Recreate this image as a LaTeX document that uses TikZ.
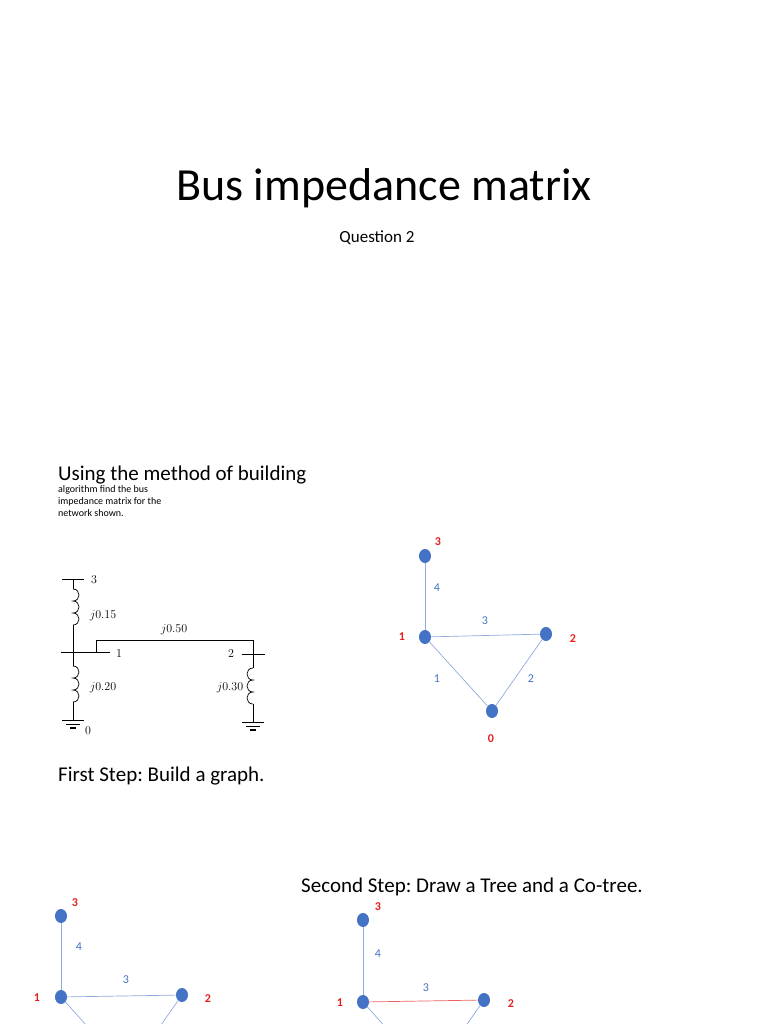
\documentclass[tikz,border=0pt]{standalone}
\usepackage{fontspec}
\setmainfont{Carlito}
\newfontfamily\cirfont{Latin Modern Roman}
\frenchspacing
\usetikzlibrary{positioning,shapes.geometric}
\definecolor{busblue}{RGB}{68,114,196}
\definecolor{busred}{RGB}{230,30,30}
\definecolor{edgeblue}{RGB}{143,170,220}
\tikzset{
  bus/.style={ellipse, fill=busblue, minimum width=12pt, minimum height=14pt, inner sep=0pt},
  busnum/.style={text=busred, font=\bfseries\fontsize{12}{14}\selectfont},
  branchnum/.style={text=busblue, font=\fontsize{12}{14}\selectfont},
  branch/.style={draw=edgeblue, line width=0.7pt},
  wire/.style={line width=0.7pt},
  cirlabel/.style={font=\cirfont\large},
}
% coil of three bumps, #1 = x, #2 = top y, #3 = bulge (+ right, - left)
\newcommand{\coil}[3]{%
  \draw[wire] (#1,#2) \foreach \k in {0,1,2} {
    .. controls ({#1+#3},{#2+12*\k}) and ({#1+#3},{#2+12*\k+12}) .. (#1,{#2+12*\k+12}) };}
\begin{document}
\begin{tikzpicture}[x=1pt,y=1pt,yscale=-1]
\useasboundingbox (0,0) rectangle (768,1024);
\clip (0,0) rectangle (768,1024);
% Title
\node (title) at (384,188) {\fontsize{46}{50}\selectfont Bus impedance matrix};
\node (sub) at (377,238) {\fontsize{17}{20}\selectfont Question 2};
\node (intro) [anchor=north west, align=left, inner sep=0pt] at (58,466)
  {\fontsize{21}{25}\selectfont Using the method of building\\ algorithm find the bus\\ impedance matrix for the\\ network shown.};
\node (step1) [anchor=west, inner sep=0pt] at (58,776) {\fontsize{21}{24}\selectfont First Step: Build a graph.};
\node (step2) [anchor=west, inner sep=0pt] at (301,887) {\fontsize{21}{24}\selectfont Second Step: Draw a Tree and a Co-tree.};

% Circuit
\draw[wire] (62,579) -- (84,579);
\node[cirlabel] (c3) at (94,580) {3};
\draw[wire] (73,579) -- (73,589);
\coil{73}{589}{8}
\draw[wire] (73,625) -- (73,666);
\coil{73}{666}{8}
\draw[wire] (73,702) -- (73,720);
\draw[wire] (61,652) -- (110,652);
\node[cirlabel] (c1) at (119,654) {1};
\draw[wire] (96,652) -- (96,640) -- (253,640) -- (253,668);
\draw[wire] (242,654) -- (265,654);
\node[cirlabel] (c2) at (231,654) {2};
\coil{253}{668}{-8}
\draw[wire] (253,704) -- (253,722);
\foreach \gx/\gy in {73/720, 253/722} {
  \draw[wire] (\gx-11,\gy) -- (\gx+11,\gy);
  \draw[wire] (\gx-7,\gy+4) -- (\gx+7,\gy+4);
  \draw[line width=1.4pt] (\gx-3,\gy+8) -- (\gx+3,\gy+8);
}
\node[cirlabel] (c0) at (88,731) {0};
\node[cirlabel] (l15) at (103,616) {$j0.15$};
\node[cirlabel] (l50) at (174,630) {$j0.50$};
\node[cirlabel] (l20) at (103,688) {$j0.20$};
\node[cirlabel] (l30) at (230,688) {$j0.30$};

% Graph
\node[bus] (g3) at (425,556) {};
\node[bus] (g1) at (425,637) {};
\node[bus] (g2) at (546,634) {};
\node[bus] (g0) at (492,711) {};
\draw[branch] (g3) -- (g1);
\draw[branch] (g1) -- (g2);
\draw[branch] (g1) -- (g0);
\draw[branch] (g2) -- (g0);
\node[busnum] at (438,542) {3};
\node[busnum] at (402,637) {1};
\node[busnum] at (573,639) {2};
\node[busnum] at (491,739) {0};
\node[branchnum] at (437,588) {4};
\node[branchnum] at (485,621) {3};
\node[branchnum] at (437,679) {1};
\node[branchnum] at (531,679) {2};

% Graph again
\node[bus] (h3) at (61,916) {};
\node[bus] (h1) at (61,997) {};
\node[bus] (h2) at (182,995) {};
\coordinate (h0) at (128,1072);
\draw[branch] (h3) -- (h1);
\draw[branch] (h1) -- (h2);
\draw[branch] (h1) -- (h0);
\draw[branch] (h2) -- (h0);
\node[busnum] at (75,903) {3};
\node[busnum] at (37,998) {1};
\node[busnum] at (208,999) {2};
\node[branchnum] at (79,947) {4};
\node[branchnum] at (126,980) {3};

% Tree and co-tree
\node[bus] (t3) at (363,920) {};
\node[bus] (t1) at (363,1002) {};
\node[bus] (t2) at (484,1000) {};
\coordinate (t0) at (430,1077);
\draw[branch] (t3) -- (t1);
\draw[draw=busred!70, line width=0.7pt] (t1) -- (t2);
\draw[branch] (t1) -- (t0);
\draw[branch] (t2) -- (t0);
\node[busnum] at (378,907) {3};
\node[busnum] at (340,1003) {1};
\node[busnum] at (511,1004) {2};
\node[branchnum] at (378,954) {4};
\node[branchnum] at (426,988) {3};
\end{tikzpicture}
\end{document}
